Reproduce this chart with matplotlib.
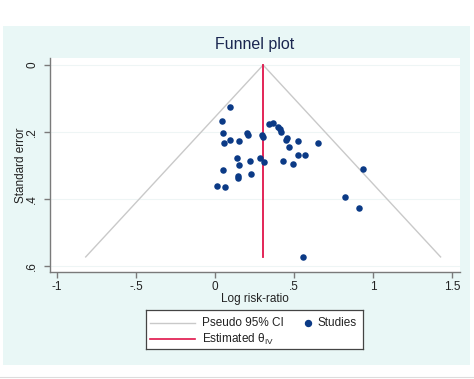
import numpy as np
import matplotlib
matplotlib.use("Agg")
import matplotlib.pyplot as plt
from matplotlib.patches import Rectangle
from matplotlib.lines import Line2D

plt.rcParams['font.family'] = ['Liberation Sans', 'DejaVu Sans']
plt.rcParams['mathtext.fontset'] = 'custom'
plt.rcParams['mathtext.rm'] = 'Liberation Sans'

# study estimates: log risk-ratio and standard error
log_rr = [0.095, 0.044, 0.053, 0.057, 0.097, 0.152, 0.203, 0.211, 0.300, 0.302,
          0.340, 0.367, 0.400, 0.410, 0.420, 0.454, 0.449, 0.523, 0.654, 0.468,
          0.141, 0.154, 0.222, 0.285, 0.308, 0.432, 0.492, 0.525, 0.567, 0.048,
          0.143, 0.146, 0.226, 0.010, 0.065, 0.937, 0.825, 0.913, 0.559]
std_err = [0.126, 0.168, 0.204, 0.234, 0.224, 0.228, 0.204, 0.210, 0.210, 0.216,
           0.177, 0.174, 0.184, 0.192, 0.199, 0.219, 0.225, 0.226, 0.233, 0.246,
           0.278, 0.298, 0.288, 0.278, 0.290, 0.288, 0.296, 0.270, 0.268, 0.313,
           0.331, 0.336, 0.324, 0.361, 0.363, 0.309, 0.394, 0.426, 0.573]

theta_iv = 0.305
se_max = 0.573
x_ticks = [-1, -0.5, 0, 0.5, 1, 1.5]
x_labels = ['-1', '-.5', '0', '.5', '1', '1.5']
y_ticks = [0, 0.2, 0.4, 0.6]
y_labels = ['0', '.2', '.4', '.6']

W, H = 474, 379
fig = plt.figure(figsize=(W / 100, H / 100), dpi=100)
fig.patch.set_facecolor('white')

# graph region background
fig.patches.append(Rectangle((3 / W, 1 - 365 / H), 467 / W, 339 / H,
                             transform=fig.transFigure, facecolor='#e9f7f6',
                             edgecolor='none', zorder=-10))
fig.lines.append(Line2D([0, 1], [1 - 377 / H] * 2, transform=fig.transFigure,
                        color='#dddddd', lw=0.8, zorder=-10))

ax = fig.add_axes([50 / W, 1 - 272 / H, 410 / W, 214 / H])
ax.set_facecolor('white')

se_line = np.array([0, se_max])
ax.plot(theta_iv - 1.96 * se_line, se_line, color='#c9c9c9', lw=1)
ax.plot(theta_iv + 1.96 * se_line, se_line, color='#c9c9c9', lw=1)
ax.plot([theta_iv, theta_iv], se_line, color='#e0144a', lw=1.3, zorder=3)
ax.scatter(log_rr, std_err, s=22, color='#0b3a86', zorder=4, linewidths=0)

ax.set_xlim(-1.044, 1.551)
ax.set_ylim(0.618, -0.021)
ax.set_xticks(x_ticks, x_labels)
ax.set_yticks(y_ticks, y_labels)
ax.grid(axis='y', color='#eef5f5', lw=0.8)
ax.set_axisbelow(True)
for side in ['top', 'right']:
    ax.spines[side].set_visible(False)
for side in ['left', 'bottom']:
    ax.spines[side].set_color('#7a7a7a')
    ax.spines[side].set_linewidth(1)
ax.tick_params(axis='both', color='#7a7a7a', length=4.5, width=1,
               labelsize=8.5, labelcolor='#222222')
ax.tick_params(axis='x', pad=2)
ax.tick_params(axis='y', labelrotation=90, pad=4)
for lbl in ax.get_yticklabels():
    lbl.set_va('center')

ax.set_xlabel('Log risk-ratio', fontsize=8.5, color='#222222')
ax.xaxis.set_label_coords(0.5, -0.1)
ax.set_ylabel('Standard error', fontsize=8.5, color='#222222')
ax.yaxis.set_label_coords(-0.055, 0.5)

fig.text(255 / W, 1 - 45 / H, 'Funnel plot', ha='center', va='center',
         fontsize=11.5, color='#1a2650')

# legend box, drawn in its own pixel-scaled axes
lax = fig.add_axes([146 / W, 1 - 349 / H, 217 / W, 39 / H])
lax.set_xlim(0, 217)
lax.set_ylim(39, 0)
lax.set_xticks([])
lax.set_yticks([])
lax.set_facecolor('white')
for sp in lax.spines.values():
    sp.set_color('#444444')
    sp.set_linewidth(0.9)
lax.plot([4, 49], [13, 13], color='#c9c9c9', lw=1)
lax.plot([4, 49], [29, 29], color='#e0144a', lw=1.2)
lax.plot([162], [13], 'o', color='#0b3a86', ms=4.3)
lax.text(56, 13, 'Pseudo 95% CI', fontsize=8.5, va='center', color='#222222')
lax.text(171, 13, 'Studies', fontsize=8.5, va='center', color='#222222')
lax.text(56, 29, r'Estimated θ$_{\mathrm{IV}}$', fontsize=8.5, va='center',
         color='#222222')

fig.savefig('out.png', dpi=100)
